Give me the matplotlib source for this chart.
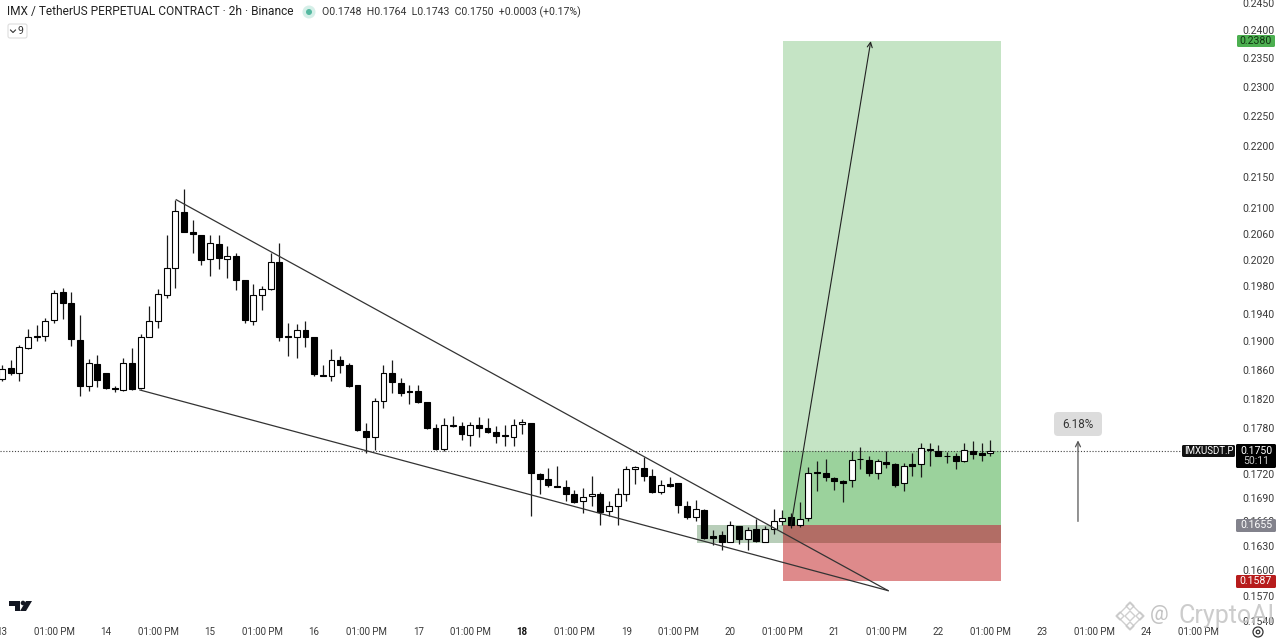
import matplotlib
matplotlib.use('Agg')
import matplotlib.pyplot as plt
import numpy as np
from matplotlib.patches import Rectangle, FancyBboxPatch, Polygon, Circle
from matplotlib.transforms import Affine2D

plt.rcParams['font.family'] = ['Roboto', 'DejaVu Sans']

# 2h candles
opens = [
    .1847, .1862, .1855, .1891, .1908, .1908, .1931, .1971, .1955, .1902,
    .1838, .1868, .1855, .1835, .1832, .1870, .1835, .1907, .1930, .1968,
    .2007, .2094, .2062, .2058, .2021, .2044, .2021, .2025, .1989, .1930,
    .1968, .1976, .2016, .1908, .1906, .1917, .1906, .1853, .1851, .1874,
    .1867, .1839, .1777, .1768, .1817, .1855, .1842, .1830, .1831, .1815,
    .1780, .1753, .1785, .1783, .1771, .1784, .1781, .1775, .1771, .1769,
    .1786, .1787, .1720, .1714, .1705, .1704, .1694, .1685, .1692, .1695,
    .1673, .1679, .1695, .1726, .1728, .1717, .1697, .1707, .1709, .1679,
    .1666, .1674, .1642, .1643, .1635, .1654, .1638, .1650, .1634, .1650,
    .1660, .1665, .1655, .1664, .1723, .1722, .1715, .1711, .1712, .1740,
    .1738, .1721, .1736, .1733, .1708, .1733, .1733, .1753, .1750, .1744,
    .1743, .1737, .1750, .1747, .1748,
]
closes = [
    .1861, .1855, .1892, .1906, .1906, .1930, .1970, .1955, .1904, .1837,
    .1869, .1846, .1835, .1833, .1869, .1834, .1907, .1930, .1969, .2008,
    .2095, .2063, .2059, .2020, .2045, .2022, .2025, .1989, .1931, .1967,
    .1976, .2016, .1906, .1907, .1917, .1906, .1854, .1851, .1873, .1867,
    .1838, .1778, .1768, .1817, .1855, .1843, .1828, .1829, .1815, .1780,
    .1753, .1784, .1783, .1772, .1784, .1781, .1775, .1770, .1770, .1784,
    .1789, .1721, .1714, .1706, .1703, .1695, .1684, .1691, .1694, .1672,
    .1679, .1695, .1727, .1729, .1718, .1697, .1706, .1705, .1680, .1665,
    .1675, .1640, .1640, .1634, .1655, .1638, .1649, .1636, .1650, .1660,
    .1664, .1656, .1663, .1722, .1722, .1716, .1711, .1709, .1738, .1739,
    .1722, .1737, .1733, .1706, .1730, .1731, .1754, .1752, .1743, .1743,
    .1737, .1751, .1746, .1745, .1750,
]
highs = [
    .1867, .1873, .1895, .1918, .1924, .1933, .1974, .1978, .1971, .1938,
    .1875, .1881, .1855, .1838, .1877, .1891, .1910, .1951, .1976, .2058,
    .2113, .2130, .2081, .2058, .2058, .2058, .2041, .2031, .1990, .1983,
    .1980, .2031, .2046, .1927, .1925, .1929, .1907, .1867, .1889, .1879,
    .1870, .1839, .1787, .1821, .1866, .1874, .1849, .1839, .1839, .1816,
    .1786, .1794, .1796, .1788, .1788, .1795, .1794, .1783, .1784, .1793,
    .1792, .1787, .1721, .1728, .1731, .1712, .1699, .1702, .1717, .1697,
    .1685, .1702, .1730, .1731, .1742, .1726, .1713, .1716, .1709, .1686,
    .1687, .1675, .1649, .1648, .1660, .1654, .1653, .1663, .1654, .1675,
    .1674, .1670, .1684, .1729, .1737, .1740, .1716, .1712, .1750, .1755,
    .1744, .1740, .1750, .1735, .1735, .1748, .1760, .1761, .1758, .1749,
    .1748, .1760, .1763, .1761, .1764,
]
lows = [
    .1845, .1853, .1845, .1889, .1900, .1901, .1926, .1932, .1893, .1824,
    .1831, .1836, .1833, .1829, .1830, .1832, .1833, .1906, .1919, .1963,
    .1978, .2063, .2030, .2012, .1996, .2006, .1992, .1974, .1927, .1924,
    .1945, .1974, .1900, .1879, .1876, .1892, .1852, .1851, .1844, .1855,
    .1836, .1776, .1747, .1751, .1807, .1828, .1824, .1813, .1814, .1779,
    .1752, .1750, .1782, .1764, .1757, .1768, .1774, .1760, .1757, .1757,
    .1773, .1667, .1695, .1704, .1703, .1686, .1683, .1671, .1679, .1656,
    .1667, .1655, .1686, .1707, .1711, .1696, .1695, .1703, .1670, .1663,
    .1661, .1638, .1631, .1625, .1634, .1632, .1625, .1634, .1634, .1645,
    .1655, .1652, .1653, .1661, .1698, .1711, .1699, .1684, .1704, .1726,
    .1718, .1714, .1728, .1703, .1698, .1718, .1716, .1731, .1743, .1734,
    .1726, .1736, .1740, .1737, .1743,
]

price_ticks = [.2450, .2400, .2350, .2300, .2250, .2200, .2150, .2100, .2060, .2020,
               .1980, .1940, .1900, .1860, .1820, .1780, .1720, .1690, .1660, .1630,
               .1600, .1570, .1540]
time_pos = [0, 6, 12, 18, 24, 30, 36, 42, 48, 54, 60, 66, 72, 78, 84, 90, 96, 102,
            108, 114, 120, 126, 132, 138]
time_labels = ['13', '01:00 PM', '14', '01:00 PM', '15', '01:00 PM', '16', '01:00 PM',
               '17', '01:00 PM', '18', '01:00 PM', '19', '01:00 PM', '20', '01:00 PM',
               '21', '01:00 PM', '22', '01:00 PM', '23', '01:00 PM', '24', '01:00 PM']

target = .2380
last_price = .1750
entry = .1655
stop = .1587
zone_low = .1633

fig = plt.figure(figsize=(12.8, 6.4), dpi=100)
ax = fig.add_axes([0, 0, 1, 1])
ax.set_yscale('log')
ax.set_xlim(-0.23, 147.4)
ax.set_ylim(.15187, .24546)
for s in ax.spines.values():
    s.set_visible(False)
ax.minorticks_off()

# pixel coords (top-left origin) for the chart furniture
px = Affine2D().scale(1 / 1280, -1 / 640).translate(0, 1) + fig.transFigure

# long position + demand zone
ax.add_patch(Rectangle((90.1, last_price), 25.1, target - last_price, fc='#c5e4c5', ec='none', zorder=1))
ax.add_patch(Rectangle((90.1, entry), 25.1, last_price - entry, fc='#9bd29c', ec='none', zorder=1))
ax.add_patch(Rectangle((90.1, stop), 25.1, entry - stop, fc='#de8a8b', ec='none', zorder=1))
ax.add_patch(Rectangle((80.2, zone_low), 9.9, entry - zone_low, fc='#b8ceb9', ec='none', zorder=1))
ax.add_patch(Rectangle((90.1, zone_low), 25.1, entry - zone_low, fc='#b26d65', ec='none', zorder=1))

ax.axhline(last_price, xmin=0, xmax=0.925, color='#444444', lw=0.8, ls=(0, (1, 1.6)), zorder=2)

# candles
x = np.arange(len(opens))
o = np.array(opens)
c = np.array(closes)
ax.vlines(x, lows, highs, color='#1a1a1a', lw=0.9, zorder=3)
body_low = np.minimum(o, c)
body_h = np.abs(c - o)
colors = ['white' if b > a else 'black' for a, b in zip(opens, closes)]
ax.bar(x, body_h, bottom=body_low, width=0.68, color=colors, edgecolor='black', linewidth=0.8, zorder=4)

# wedge and projection
ax.plot([20.1, 102.2], [.2113, .1576], color='#333333', lw=0.9, zorder=5)
ax.plot([15.9, 102.2], [.1832, .1576], color='#333333', lw=0.9, zorder=5)
ax.annotate('', xy=(100.2, target), xytext=(91, entry), zorder=5,
            arrowprops=dict(arrowstyle='->', color='#222222', lw=0.8, shrinkA=0, shrinkB=0, mutation_scale=9))
ax.annotate('', xy=(124.1, .1764), xytext=(124.1, .1660), zorder=5,
            arrowprops=dict(arrowstyle='->', color='#555555', lw=0.9, shrinkA=0, shrinkB=0, mutation_scale=9))

# axes
ax.yaxis.tick_right()
ax.set_yticks(price_ticks)
ax.set_yticklabels([f'{p:.4f}' for p in price_ticks])
ax.tick_params(axis='y', which='both', length=0, pad=-27, labelsize=7.6, labelcolor='#3a3a3a')
ax.set_xticks(time_pos)
ax.set_xticklabels(time_labels)
ax.tick_params(axis='x', length=0, pad=-9.5, labelsize=7.0, labelcolor='#3a3a3a')
for lab, txt in zip(ax.get_xticklabels(), time_labels):
    if txt == '18':
        lab.set_fontweight('bold')
        lab.set_color('#111111')

# header
ax.text(7, 12, 'IMX / TetherUS PERPETUAL CONTRACT · 2h · Binance', transform=px, fontsize=8.6,
        color='#222222', va='center')
ax.add_patch(Circle((309, 12), 6.5, transform=px, fc='#d5efe8', ec='none', zorder=6, clip_on=False))
ax.add_patch(Circle((309, 12), 3, transform=px, fc='#55b8a0', ec='none', zorder=6, clip_on=False))
ax.text(322, 12, 'O0.1748  H0.1764  L0.1743  C0.1750  +0.0003 (+0.17%)', transform=px, fontsize=7.6,
        color='#333333', va='center')
ax.add_patch(FancyBboxPatch((8, 24), 19, 14, boxstyle='round,pad=0,rounding_size=2', transform=px,
                            fc='white', ec='#dddddd', lw=0.8, zorder=6, clip_on=False))
ax.plot([10.5, 13, 15.5], [30, 32.5, 30], transform=px, color='#333333', lw=0.8, zorder=7)
ax.text(18, 31, '9', transform=px, fontsize=7.6, color='#333333', va='center', zorder=7)

# right scale tags
def tag(x0, y0, w, h, fc, r=1.5):
    ax.add_patch(FancyBboxPatch((x0, y0), w, h, boxstyle=f'round,pad=0,rounding_size={r}', transform=px,
                                fc=fc, ec='none', zorder=6, clip_on=False))

tag(1237, 35, 38, 12, '#4caf50')
ax.text(1256, 41, f'{target:.4f}', transform=px, fontsize=7.6, color='#123312', ha='center', va='center', zorder=7)
tag(1182, 445, 53, 12, '#111111')
ax.text(1208.5, 451, 'IMXUSDT.P', transform=px, fontsize=6.9, color='white', ha='center', va='center', zorder=7)
tag(1236, 444, 40, 24, '#000000')
ax.text(1256, 451, f'{last_price:.4f}', transform=px, fontsize=7.6, color='white', ha='center', va='center', zorder=7)
ax.text(1256, 461, '50:11', transform=px, fontsize=7.6, color='#cccccc', ha='center', va='center', zorder=7)
tag(1236, 519, 40, 13, '#82828c')
ax.text(1256, 525.5, f'{entry:.4f}', transform=px, fontsize=7.6, color='white', ha='center', va='center', zorder=7)
tag(1236, 575, 40, 13, '#b71c1c')
ax.text(1256, 581.5, f'{stop:.4f}', transform=px, fontsize=7.6, color='white', ha='center', va='center', zorder=7)

tag(1054, 412, 48, 24, '#dcdcdc', r=4)
ax.text(1078, 424, '6.18%', transform=px, fontsize=8.4, color='#333333', ha='center', va='center', zorder=7)

# TradingView mark
tv = [[(9, 601), (20, 601), (20, 611), (15, 611), (15, 606), (9, 606)],
      [(26, 601), (32, 601), (26, 611), (20, 611)]]
for pts in tv:
    fig.add_artist(Polygon(pts, closed=True, transform=px, fc='#131722', ec='none'))
fig.add_artist(Circle((23, 603), 2.3, transform=px, fc='#131722', ec='none'))

# gear at the scale corner
fig.add_artist(Circle((1258, 632), 5, transform=px, fc='none', ec='#333333', lw=0.9))
fig.add_artist(Circle((1258, 632), 1.8, transform=px, fc='none', ec='#333333', lw=0.9))

# watermark
wm = '#c4c4c4'
for cx, cy, r in [(1130, 616, 13), (1120, 616, 4), (1140, 616, 4), (1130, 606, 4), (1130, 626, 4), (1130, 616, 5)]:
    fig.add_artist(Polygon([(cx - r, cy), (cx, cy - r), (cx + r, cy), (cx, cy + r)], closed=True, transform=px,
                           fc='none', ec=wm, lw=1, alpha=0.8))
ax.text(1159, 615, '@', transform=px, fontsize=15, color=wm, ha='center', va='center', zorder=7)
ax.text(1178, 616, 'CryptoAI', transform=px, fontsize=18, color=wm, ha='left', va='center', zorder=7, alpha=0.85)

fig.savefig('out.png', dpi=100)
